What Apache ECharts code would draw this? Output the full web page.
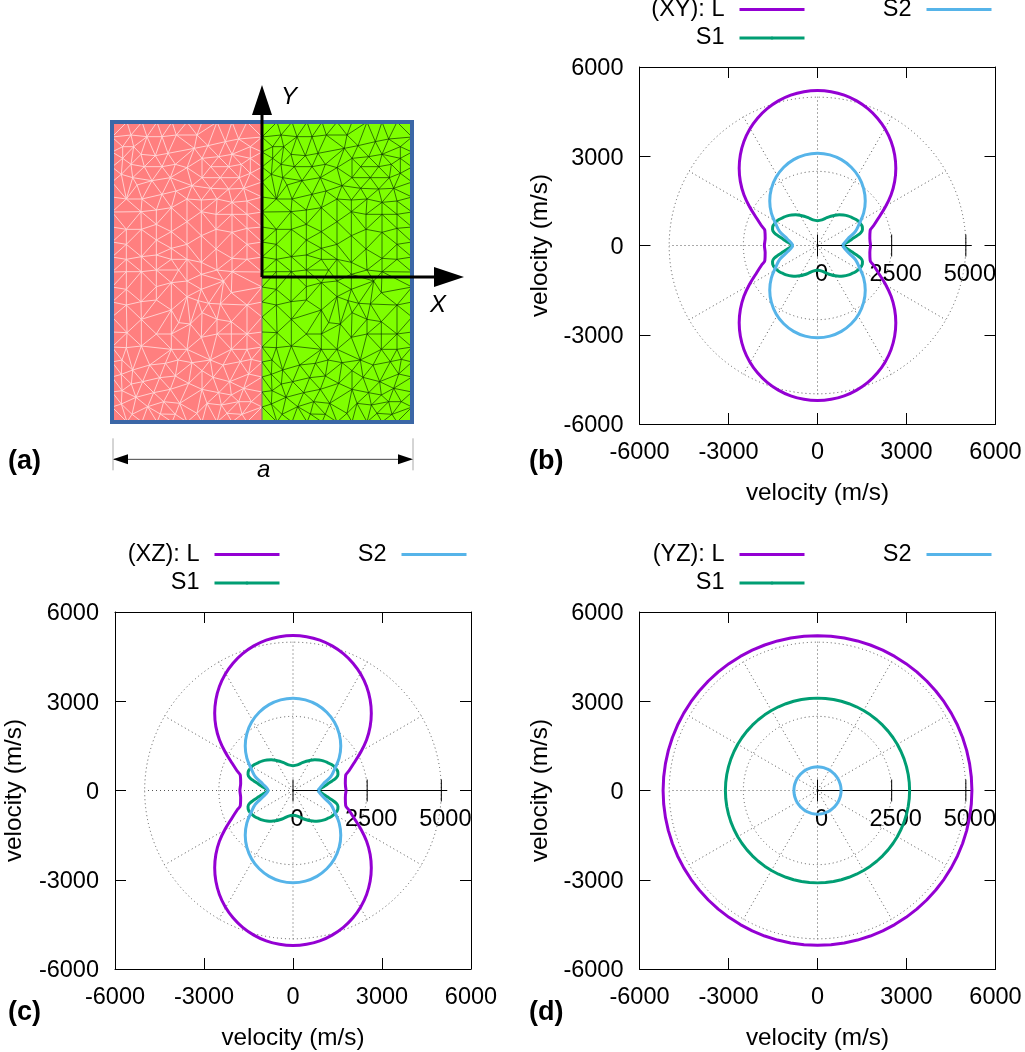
<!DOCTYPE html>
<html><head><meta charset="utf-8">
<style>html,body{margin:0;padding:0;background:#fff}#c{width:1025px;height:1052px}</style>
<script src="https://cdn.jsdelivr.net/npm/echarts@6/dist/echarts.min.js"></script>
</head><body><div id="c"></div>
<script>
// ---- wave velocity readings (m/s), first quadrant, [vx, vy] ----
const xyL = [[1790,0],[1764,236],[1775,506],[1888,663],[2045,905],[2286,1295],[2481,1707],[2600,2147],[2640,2600],[2600,3053],[2481,3493],[2286,3905],[2022,4278],[1697,4599],[1320,4860],[903,5053],[458,5170],[0,5210]];
const xyS1 = [[840,0],[1000,105],[1157,213],[1320,320],[1450,420],[1515,530],[1510,630],[1416,775],[1300,870],[1157,943],[1020,995],[876,1022],[735,1032],[595,1020],[450,985],[315,935],[150,860],[0,835]];
const xyS2 = [[840,0],[1011,213],[1270,461],[1394,700],[1555,1086],[1610,1500],[1555,1914],[1394,2300],[1138,2631],[805,2886],[417,3045],[0,3100]];
const xzL = xyL, xzS1 = xyS1, xzS2 = xyS2;
// circular (isotropic) plane YZ: radius
const yzL = 5205, yzS1 = 3105, yzS2 = 795;
// ---- axes ----
const axisTicks = [-6000,-3000,0,3000,6000];
const polarRings = [2500,5000];
const polarTicks = [0,2500,5000];
const spokeAngles = [0,30,60,90,120,150,180,210,240,270,300,330];
const polarAxisEnd = 5200;
// ---- mesh nodes of panel (a), half-domain, 450 x 900 mesh units ----
const meshNodesTop = [[32,95],[65,95],[57,60],[105,65],[150,65],[193,60],[255,60],[288,92],[340,80],[380,72],[415,95],[87,118],[130,122],[168,115],[247,100],[320,125],[360,118],[415,130],[32,130],[57,148],[97,155],[150,155],[190,148],[225,158],[270,130],[296,155],[350,155],[388,148],[28,178],[62,188],[120,197],[175,188],[270,188],[325,188],[382,188],[415,175],[75,210],[192,228],[240,212],[296,220],[350,222],[395,220],[43,252],[90,252],[150,238],[225,252],[268,255],[315,252],[360,262],[405,258],[87,290],[133,285],[178,278],[268,290],[312,298],[360,298],[405,298],[133,328],[225,320],[178,350],[88,343],[43,343],[312,343],[360,352],[405,340],[268,362],[133,375],[43,388],[225,388],[178,400],[312,402],[405,388],[88,425],[133,420],[43,433],[178,433],[225,433],[268,442],[405,433],[360,430],[133,465],[200,465],[88,470],[43,470],[268,478],[315,465],[360,470]];
const meshNodesBottom = [[178,38],[225,33],[335,33],[43,58],[133,50],[268,58],[358,68],[225,80],[87,95],[133,90],[258,92],[290,100],[325,102],[178,120],[43,105],[270,128],[405,105],[315,148],[358,155],[200,158],[235,162],[88,148],[133,192],[45,188],[178,192],[268,202],[315,192],[405,192],[358,192],[43,233],[88,228],[178,238],[225,238],[358,238],[405,238],[30,270],[62,300],[113,285],[160,280],[198,270],[240,278],[295,270],[333,285],[385,275],[418,268],[270,302],[28,313],[58,342],[92,335],[143,323],[190,318],[230,340],[303,322],[353,335],[410,312],[30,362],[72,382],[125,368],[175,358],[270,358],[320,368],[395,355],[358,375],[28,402],[107,410],[155,395],[203,400],[285,400],[328,405],[380,395],[418,395],[60,433],[190,433],[145,432],[255,430],[345,430],[390,433]];

const PURPLE='#9400D3', GREEN='#009E73', BLUE='#56B4E9';
const FONT='"Liberation Sans", Arial, sans-serif';
const FS=23.5;

function closedLoop(q){
  const a=q.map(p=>[p[0],p[1]]);
  const b=q.slice(0,-1).reverse().map(p=>[-p[0],p[1]]);
  const c=q.slice(1).map(p=>[-p[0],-p[1]]);
  const d=q.slice(0,-1).reverse().map(p=>[p[0],-p[1]]);
  return a.concat(b,c,d);
}
function circleLoop(r){const o=[];for(let t=0;t<=360;t+=5)o.push([r*Math.cos(t*Math.PI/180),r*Math.sin(t*Math.PI/180)]);return o;}

// Delaunay triangulation (Bowyer-Watson) producing unique edges of the mesh
function meshEdges(pts){
  const P=pts.concat([[-1e4,-1e4],[1e4,-1e4],[0,1.4e4]]);const n=pts.length;
  let tris=[[n,n+1,n+2]];
  const inCirc=(t,p)=>{const [a,b,c]=t.map(i=>P[i]);
    const ax=a[0]-p[0],ay=a[1]-p[1],bx=b[0]-p[0],by=b[1]-p[1],cx=c[0]-p[0],cy=c[1]-p[1];
    const det=(ax*ax+ay*ay)*(bx*cy-cx*by)-(bx*bx+by*by)*(ax*cy-cx*ay)+(cx*cx+cy*cy)*(ax*by-bx*ay);
    const o=(b[0]-a[0])*(c[1]-a[1])-(b[1]-a[1])*(c[0]-a[0]);
    return o>0?det>0:det<0;};
  for(let i=0;i<n;i++){
    const bad=[],keep=[];tris.forEach(t=>(inCirc(t,P[i])?bad:keep).push(t));
    const cnt={};bad.forEach(t=>{[[t[0],t[1]],[t[1],t[2]],[t[2],t[0]]].forEach(e=>{const k=Math.min(e[0],e[1])+'_'+Math.max(e[0],e[1]);cnt[k]=(cnt[k]||0)+1;});});
    tris=keep;Object.keys(cnt).forEach(k=>{if(cnt[k]===1){const s=k.split('_');tris.push([+s[0],+s[1],i]);}});
  }
  const set={};tris.forEach(t=>{if(t.some(i=>i>=n))return;[[t[0],t[1]],[t[1],t[2]],[t[2],t[0]]].forEach(e=>{set[Math.min(e[0],e[1])+'_'+Math.max(e[0],e[1])]=1;});});
  return Object.keys(set).map(k=>{const s=k.split('_');return [P[+s[0]][0],P[+s[0]][1],P[+s[1]][0],P[+s[1]][1]];});
}
const boundary=[];
for(let k=0;k<=10;k++){boundary.push([k*45,0],[k*45,900]);}
for(let k=1;k<20;k++){boundary.push([0,k*45],[450,k*45]);}
const nodes=boundary.concat(meshNodesTop.map(p=>[p[0],p[1]-21]),meshNodesBottom.map(p=>[p[0],p[1]+444]));
const edges=meshEdges(nodes);

// ---- grids & axes ----
const grid=[{left:112,top:122,width:300,height:300,outerBoundsMode:'none'}];
const xAxis=[{gridIndex:0,type:'value',min:-450,max:450,show:false}];
const yAxis=[{gridIndex:0,type:'value',min:0,max:900,inverse:true,show:false}];
const series=[];
const legend=[];

const plain={type:'value',min:axisTicks[0],max:axisTicks[4],interval:3000,splitLine:{show:false},
  axisLine:{show:true,onZero:false,lineStyle:{color:'#000',width:1}},axisTick:{show:true,inside:true,length:11,lineStyle:{color:'#000',width:1}}};
const AXLAB=(m)=>({color:'#000',fontFamily:FONT,fontSize:FS,margin:m,formatter:v=>String(v),hideOverlap:false});
const NAME=(gap)=>({name:'velocity (m/s)',nameLocation:'middle',nameGap:gap,nameMoveOverlap:false,nameTextStyle:{color:'#000',fontFamily:FONT,fontSize:24.3}});

function addPanel(g,tag,curves,keyRight,smooth,yGap){
  const gi=grid.length;grid.push(Object.assign({outerBoundsMode:'none'},g));
  const xi=xAxis.length,yi=yAxis.length;
  xAxis.push(Object.assign({},plain,{gridIndex:gi,position:'bottom',axisLabel:AXLAB(17)},NAME(57)));
  xAxis.push(Object.assign({},plain,{gridIndex:gi,position:'top',axisLabel:{show:false}}));
  yAxis.push(Object.assign({},plain,{gridIndex:gi,position:'left',axisLabel:Object.assign(AXLAB(16),{verticalAlign:'top',lineHeight:4})},NAME(yGap)));
  yAxis.push(Object.assign({},plain,{gridIndex:gi,position:'right',axisLabel:{show:false}}));
  const base={type:'custom',xAxisIndex:xi,yAxisIndex:yi,silent:true,animation:false,clip:false};
  const dot={stroke:'#555',lineWidth:1,lineDash:[1,3],fill:null};
  series.push(Object.assign({},base,{data:polarRings.map(r=>[r]),renderItem:(p,api)=>{
    const c=api.coord([0,0]);return {type:'circle',shape:{cx:c[0],cy:c[1],r:api.size([api.value(0),0])[0]},style:dot};}}));
  series.push(Object.assign({},base,{data:spokeAngles.map(a=>[a]),renderItem:(p,api)=>{
    const t=api.value(0)*Math.PI/180,c=api.coord([0,0]),e=api.coord([5000*Math.cos(t),5000*Math.sin(t)]);
    return {type:'line',shape:{x1:c[0],y1:c[1],x2:e[0],y2:e[1]},style:dot};}}));
  series.push(Object.assign({},base,{data:[[polarAxisEnd]],renderItem:(p,api)=>{
    const c=api.coord([0,0]),e=api.coord([api.value(0),0]);
    return {type:'line',shape:{x1:c[0],y1:c[1],x2:e[0],y2:e[1]},style:{stroke:'#000',lineWidth:1}};}}));
  series.push(Object.assign({},base,{data:polarTicks.map(v=>[v]),renderItem:(p,api)=>{
    const c=api.coord([api.value(0),0]);
    return {type:'group',children:[
      {type:'line',shape:{x1:c[0],y1:c[1]-11,x2:c[0],y2:c[1]+11},style:{stroke:'#000',lineWidth:1}},
      {type:'text',style:{x:c[0]+4,y:c[1]+29,text:String(api.value(0)),fill:'#000',font:FS+'px '+FONT,textAlign:'center',textVerticalAlign:'middle'}}
    ]};}}));
  const names=['('+tag+'): L',tag+' S1',tag+' S2'];
  const cols=[PURPLE,GREEN,BLUE];
  curves.forEach((d,i)=>{series.push({type:'line',name:names[i],xAxisIndex:xi,yAxisIndex:yi,data:d,showSymbol:false,symbol:'none',
    smooth:smooth,color:cols[i],lineStyle:{color:cols[i],width:3},silent:true,animation:false,clip:false});});
  const keyTop=g.top-69.5;
  const pos=[[keyRight,keyTop],[keyRight,keyTop+28.5],[keyRight+187,keyTop]];
  names.forEach((n,i)=>{legend.push({data:[n],right:1025-pos[i][0],top:pos[i][1],align:'right',orient:'horizontal',padding:0,itemWidth:65,itemHeight:4,selectedMode:false,
    lineStyle:{width:3},formatter:s=>s.charAt(0)==='('?s:s.slice(3),
    textStyle:{color:'#000',fontFamily:FONT,fontSize:FS,padding:[0,10,0,0]}});});
}
const bow=[xyL,xyS1,xyS2].map(closedLoop);
const boz=[xzL,xzS1,xzS2].map(closedLoop);
const cir=[yzL,yzS1,yzS2].map(circleLoop);
addPanel({left:639.5,top:67,width:356,height:357},'XY',bow,806,0.35,87);
addPanel({left:115,top:612,width:356,height:357},'XZ',boz,281,0.35,89);
addPanel({left:639.5,top:612,width:356,height:357},'YZ',cir,806,false,87);

// ---- panel (a) ----
const A={type:'custom',xAxisIndex:0,yAxisIndex:0,silent:true,animation:false,clip:false};
const fills=[[-450,'#FF7F7F'],[0,'#7FFF00']];
series.unshift(Object.assign({},A,{data:fills.map(f=>[f[0]]),renderItem:(p,api)=>{
    const a=api.coord([api.value(0),0]),b=api.size([450,900]);
    return {type:'rect',shape:{x:a[0],y:a[1],width:b[0],height:b[1]},style:{fill:fills[p.dataIndex][1]}};}}),
  Object.assign({},A,{data:edges,renderItem:(p,api)=>{
    const a=api.coord([api.value(0)-450,api.value(1)]),b=api.coord([api.value(2)-450,api.value(3)]);
    return {type:'line',shape:{x1:a[0],y1:a[1],x2:b[0],y2:b[1]},style:{stroke:'rgba(255,215,215,0.9)',lineWidth:1}};}}),
  Object.assign({},A,{data:edges,renderItem:(p,api)=>{
    const a=api.coord([api.value(0),api.value(1)]),b=api.coord([api.value(2),api.value(3)]);
    return {type:'line',shape:{x1:a[0],y1:a[1],x2:b[0],y2:b[1]},style:{stroke:'rgba(10,50,0,0.75)',lineWidth:0.9}};}}),
  Object.assign({},A,{data:[[0]],renderItem:(p,api)=>{
    const a=api.coord([-450,0]),b=api.size([900,900]);
    const o=api.coord([0,465]);
    const ytip=api.coord([0,-111]),xtip=api.coord([606,465]);
    const dimL=api.coord([-450,1012]),dimR=api.coord([453,1012]);
    const tri=(pts,fill)=>({type:'polygon',shape:{points:pts},style:{fill:fill}});
    const ln=(x1,y1,x2,y2,s,w)=>({type:'line',shape:{x1,y1,x2,y2},style:{stroke:s,lineWidth:w}});
    return {type:'group',children:[
      {type:'rect',shape:{x:a[0],y:a[1],width:b[0],height:b[1]},style:{fill:null,stroke:'#3B67A6',lineWidth:4}},
      ln(o[0],o[1],ytip[0],ytip[1]+28,'#000',3),ln(o[0],o[1],xtip[0]-28,xtip[1],'#000',3),
      tri([[ytip[0],ytip[1]],[ytip[0]-10,ytip[1]+30],[ytip[0]+10,ytip[1]+30]],'#000'),
      tri([[xtip[0],xtip[1]],[xtip[0]-30,xtip[1]-10],[xtip[0]-30,xtip[1]+10]],'#000'),
      ln(dimL[0]+2,dimL[1],dimR[0]-2,dimR[1],'#444',1),
      ln(dimL[0]+1,dimL[1]-21,dimL[0]+1,dimL[1]+11,'#aaa',1),ln(dimR[0],dimR[1]-21,dimR[0],dimR[1]+11,'#aaa',1),
      tri([[dimL[0]+1,dimL[1]],[dimL[0]+16,dimL[1]-5],[dimL[0]+16,dimL[1]+5]],'#000'),
      tri([[dimR[0],dimR[1]],[dimR[0]-15,dimR[1]-5],[dimR[0]-15,dimR[1]+5]],'#000')
    ]};}}));

const txt=(x,y,t,font)=>({type:'text',left:x,top:y,silent:true,style:{text:t,fill:'#000',font:font}});
const bold='bold 27px '+FONT, ital='italic 24px '+FONT;
const graphic=[txt(8,448,'(a)',bold),txt(529,448,'(b)',bold),txt(8,999,'(c)',bold),txt(529,999,'(d)',bold),
  txt(281,85,'Y',ital),txt(430,293,'X',ital),txt(257,458,'a',ital)];

const chart=echarts.init(document.getElementById('c'),null,{renderer:'canvas'});
chart.setOption({animation:false,backgroundColor:'#fff',grid,xAxis,yAxis,series,legend,graphic});
</script></body></html>
